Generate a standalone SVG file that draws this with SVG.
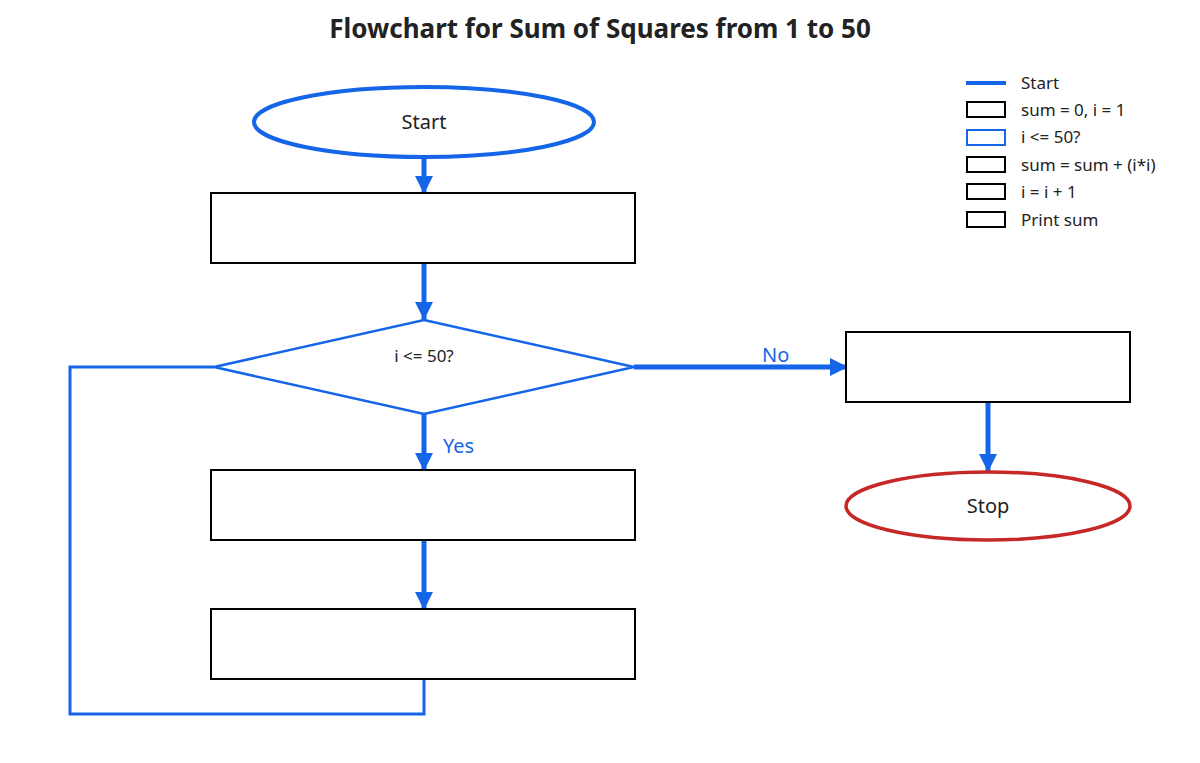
<svg xmlns="http://www.w3.org/2000/svg" width="1200" height="763" viewBox="0 0 1200 763">
<defs>
<style>
text{font-family:"Noto Sans","Liberation Sans",sans-serif;}
.box{fill:#fff;stroke:#000;stroke-width:2}
.lbl{font-size:20px;fill:#222;text-anchor:middle}
.leg{font-size:17px;fill:#222}
.c{fill:none;stroke:#1565e8;stroke-width:5}
.c3{fill:none;stroke:#1565e8;stroke-width:3}
</style>
<marker id="ah" markerWidth="6" markerHeight="8" refX="5" refY="4" orient="auto" markerUnits="userSpaceOnUse" viewBox="0 0 6 8"><path d="M0,0L6,4L0,8z" fill="#1565e8"/></marker>
<marker id="a" markerWidth="18" markerHeight="30" refX="18" refY="9" orient="auto" markerUnits="userSpaceOnUse"><path d="M0,0L18,9L0,18z" fill="#1565e8"/></marker>
</defs>
<rect width="1200" height="763" fill="#fff"/>
<text x="600" y="38" font-size="26" font-weight="bold" text-anchor="middle" fill="#222">Flowchart for Sum of Squares from 1 to 50</text>
<g id="connectors">
<line class="c" x1="424" y1="158" x2="424" y2="194" marker-end="url(#a)"/>
<line class="c" x1="424" y1="263" x2="424" y2="320" marker-end="url(#a)"/>
<line class="c" x1="424" y1="414" x2="424" y2="471" marker-end="url(#a)"/>
<line class="c" x1="424" y1="540" x2="424" y2="610" marker-end="url(#a)"/>
<line class="c" x1="634" y1="367" x2="848" y2="367" marker-end="url(#a)"/>
<line class="c" x1="988" y1="402" x2="988" y2="472" marker-end="url(#a)"/>
<polyline class="c3" points="424,680 424,714 70,714 70,367 214,367"/>
<text x="443" y="453" font-size="20" fill="#1565e8">Yes</text>
<text x="762" y="362" font-size="20" fill="#1565e8">No</text>
</g>
<g id="start"><ellipse cx="424" cy="122" rx="170" ry="35" fill="#fff" stroke="#1565e8" stroke-width="4"/><text class="lbl" x="424" y="129">Start</text></g>
<g id="init"><rect class="box" x="211" y="193" width="424" height="70"/></g>
<g id="decision"><polygon points="424,320 634,367 424,414 214,367" fill="#fff" stroke="#1565e8" stroke-width="2.5"/><text x="424" y="362" font-size="17" fill="#222" text-anchor="middle">i &lt;= 50?</text></g>
<g id="sum"><rect class="box" x="211" y="470" width="424" height="70"/></g>
<g id="inc"><rect class="box" x="211" y="609" width="424" height="70"/></g>
<g id="print"><rect class="box" x="846" y="332" width="284" height="70"/></g>
<g id="stop"><ellipse cx="988" cy="506" rx="142" ry="34" fill="#fff" stroke="#c62828" stroke-width="3.5"/><text class="lbl" x="988" y="513">Stop</text></g>
<g id="legend">
<line x1="966" y1="83" x2="1006" y2="83" stroke="#1565e8" stroke-width="4"/>
<text class="leg" x="1021" y="89">Start</text>
<rect x="967" y="102" width="38" height="15" fill="#fff" stroke="#000" stroke-width="2"/>
<text class="leg" x="1021" y="116">sum = 0, i = 1</text>
<rect x="967" y="130" width="38" height="15" fill="#fff" stroke="#1565e8" stroke-width="2"/>
<text class="leg" x="1021" y="143">i &lt;= 50?</text>
<rect x="967" y="157" width="38" height="15" fill="#fff" stroke="#000" stroke-width="2"/>
<text class="leg" x="1021" y="171">sum = sum + (i*i)</text>
<rect x="967" y="184" width="38" height="15" fill="#fff" stroke="#000" stroke-width="2"/>
<text class="leg" x="1021" y="198">i = i + 1</text>
<rect x="967" y="212" width="38" height="15" fill="#fff" stroke="#000" stroke-width="2"/>
<text class="leg" x="1021" y="226">Print sum</text>
</g>
</svg>
